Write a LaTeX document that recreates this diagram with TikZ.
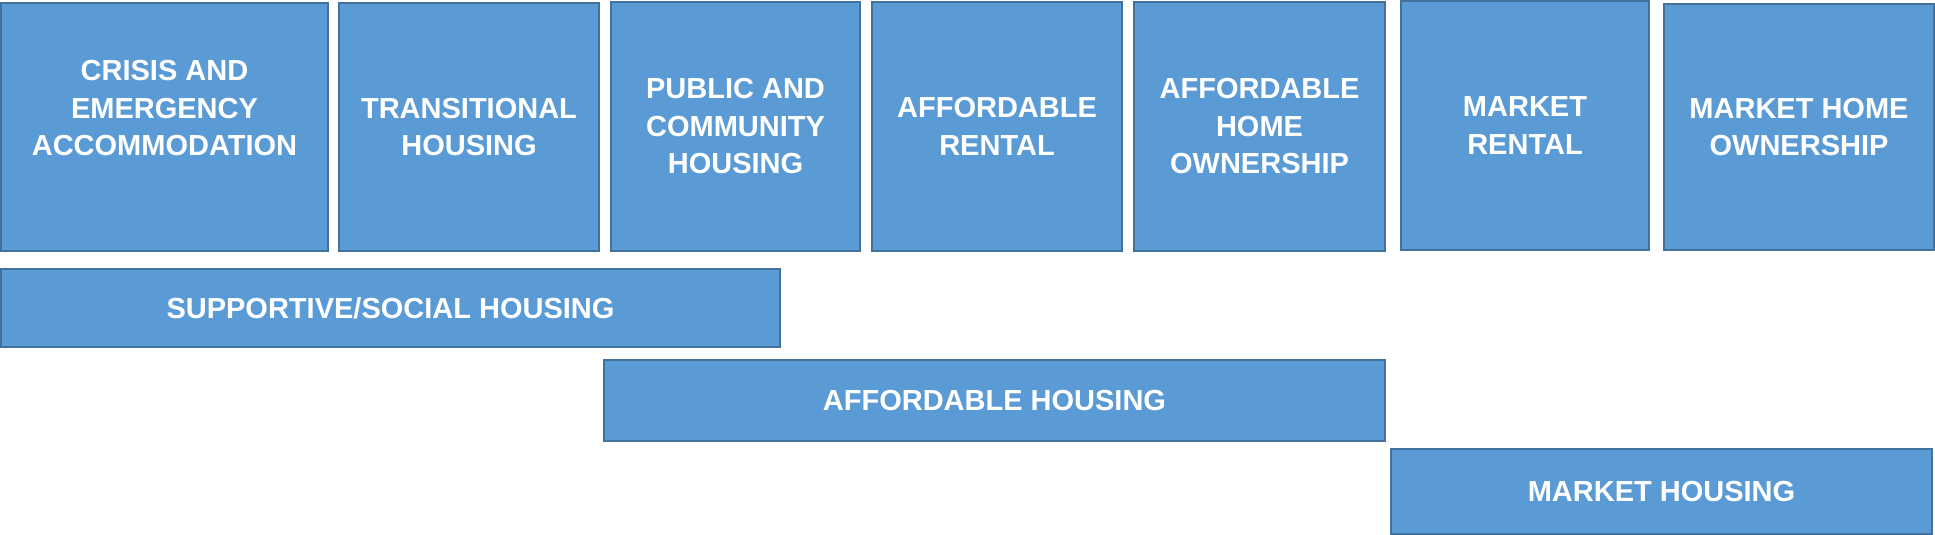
\documentclass[tikz,border=0pt]{standalone}
\usepackage{fontspec}
\setmainfont{Liberation Sans}[BoldFont={Liberation Sans Bold}]
\definecolor{boxfill}{HTML}{5B9BD5}
\definecolor{boxline}{HTML}{41719C}
\begin{document}
\begin{tikzpicture}[x=1pt,y=-1pt,
  box/.style={draw=boxline, fill=boxfill, line width=2pt, rectangle, inner sep=0pt,
    text=white, align=center,
    font=\fontsize{29}{37.5}\selectfont\bfseries}]
\useasboundingbox (0,0) rectangle (1935,535);
\node[box, minimum width=327pt, minimum height=248pt] (crisis) at (164.5,126.7)
  {CRISIS AND\\EMERGENCY\\ACCOMMODATION\\\mbox{}};
\node[box, minimum width=260pt, minimum height=247.4pt] (trans) at (469,127)
  {TRANSITIONAL\\HOUSING};
\node[box, minimum width=249pt, minimum height=249pt] (public) at (735.5,126.2)
  {PUBLIC AND\\COMMUNITY\\HOUSING};
\node[box, minimum width=250pt, minimum height=249pt] (affrent) at (997,126.2)
  {AFFORDABLE\\RENTAL};
\node[box, minimum width=251pt, minimum height=249pt] (affown) at (1259.5,126.2)
  {AFFORDABLE\\HOME\\OWNERSHIP};
\node[box, minimum width=248pt, minimum height=249.3pt] (mrent) at (1525,125.35)
  {MARKET\\RENTAL};
\node[box, minimum width=270pt, minimum height=246.3pt] (mown) at (1799,126.85)
  {MARKET HOME\\OWNERSHIP};
\node[box, minimum width=779pt, minimum height=78.6pt] (social) at (390.5,308)
  {SUPPORTIVE/SOCIAL HOUSING};
\node[box, minimum width=781pt, minimum height=81.6pt] (afford) at (994.5,400.5)
  {AFFORDABLE HOUSING};
\node[box, minimum width=541pt, minimum height=85.6pt] (market) at (1661.5,491.5)
  {MARKET HOUSING};
\end{tikzpicture}
\end{document}
